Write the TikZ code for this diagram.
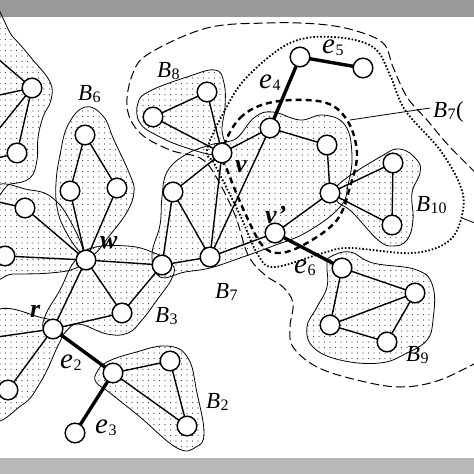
\documentclass[tikz,border=0pt]{standalone}
\usepackage{fontspec}
\setmainfont{Liberation Serif}
\usetikzlibrary{patterns.meta}
\newcommand\BB[1]{\textit{B}\kern0.3pt\raisebox{-2pt}{\fontsize{16}{16}\selectfont #1}}
\newcommand\EE[1]{{\fontsize{29}{29}\selectfont\textit{e}}\kern0.5pt\raisebox{-2pt}{\fontsize{16}{16}\selectfont #1}}
\begin{document}
\begin{tikzpicture}[x=1pt,y=-1pt,
 vtx/.style={circle,draw,fill=white,line width=1.4pt,minimum size=19pt,inner sep=0pt},
 edge/.style={line width=1.4pt},
 bridge/.style={line width=3.4pt},
 blob/.style={draw,line width=0.8pt,pattern={Dots[distance=5.5pt,radius=0.55pt]},pattern color=black!75},
 thickdash/.style={line width=2.4pt,dash pattern=on 6pt off 4pt},
 dotline/.style={line width=1.8pt,dash pattern=on 1.6pt off 1.9pt},
 longdash/.style={line width=1pt,dash pattern=on 9pt off 4pt},
 blab/.style={font=\fontsize{23}{23}\selectfont,inner sep=0pt,anchor=base west},
 elab/.style={inner sep=0pt,anchor=base west},
 vlab/.style={font=\fontsize{26}{26}\selectfont\bfseries\itshape,inner sep=0pt,anchor=base west}
]
\useasboundingbox (0,0) rectangle (474,474);
\clip (0,0) rectangle (474,474);
% bands
\fill[black!40] (0,0) rectangle (474,17);
\fill[black!28] (0,458) rectangle (474,474);

% blobs
\draw[blob] plot[smooth cycle,tension=0.7] coordinates {(-10,15) (13,37) (33,60) (50,82) (51,100) (43,117) (38,138) (37,160) (30,178) (10,184) (-10,184)};
\draw[blob] plot[smooth cycle,tension=0.7] coordinates {(85,107) (103,116) (114,140) (130,175) (134,192) (127,212) (110,235) (93,255) (80,252) (64,228) (57,207) (56,183) (60,155) (68,125)};
\draw[blob] plot[smooth cycle,tension=0.7] coordinates {(-10,192) (30,190) (55,200) (74,228) (84,256) (76,268) (50,273) (13,274) (-10,274)};
\draw[blob] plot[smooth cycle,tension=0.7] coordinates {(92,248) (127,246) (152,252) (172,264) (172,278) (157,300) (142,320) (128,333) (107,334) (77,324) (60,336) (44,330) (46,314) (60,290) (74,262)};
\draw[blob] plot[smooth cycle,tension=0.7] coordinates {(-10,317) (43,318) (62,330) (55,352) (40,383) (22,405) (-10,415)};
\draw[blob] plot[smooth cycle,tension=0.7] coordinates {(97,372) (107,362) (133,353) (167,346) (188,358) (197,393) (204,433) (196,447) (177,448) (140,417) (110,393) (96,382)};
\draw[blob] plot[smooth cycle,tension=0.7] coordinates {(210,145) (185,155) (167,172) (162,197) (160,225) (152,255) (160,277) (185,272) (210,268) (240,258) (273,246) (307,232) (340,207) (348,185) (352,155) (345,125) (323,115) (300,120) (273,112) (255,117) (238,137) (226,142)};
\draw[blob] plot[smooth cycle,tension=0.7] coordinates {(138,103) (150,91) (187,77) (215,70) (224,83) (225,107) (222,130) (226,150) (215,155) (187,148) (160,137) (140,123)};
\draw[blob] plot[smooth cycle,tension=0.7] coordinates {(338,185) (380,157) (400,149) (417,160) (420,173) (412,193) (413,220) (407,240) (393,246) (378,240) (352,212) (336,200)};
\draw[blob] plot[smooth cycle,tension=0.7] coordinates {(330,257) (350,252) (373,263) (417,270) (433,287) (433,320) (427,340) (407,353) (380,363) (340,360) (313,347) (307,327) (317,307) (327,287) (327,265)};

% region curves
\draw[thickdash] plot[smooth cycle,tension=0.6] coordinates {(222,152) (240,118) (273,102) (323,102) (347,120) (357,153) (350,187) (337,220) (307,243) (280,253) (262,245) (245,213) (228,172)};
\draw[dotline] plot[smooth cycle,tension=0.6] coordinates {(207,150) (225,110) (247,77) (290,43) (333,37) (373,47) (390,75) (405,110) (440,150) (460,185) (463,210) (450,240) (413,253) (350,248) (323,253) (275,267) (258,255) (240,215) (215,165)};
\draw[longdash] plot[smooth,tension=0.6] coordinates {(485,182) (450,147) (427,120) (407,97) (393,67) (383,43) (353,30) (317,24) (267,23) (207,28) (150,53) (133,73) (127,107) (140,133) (170,150) (200,158) (215,175) (235,215) (248,255) (265,275) (283,287) (293,303) (290,327) (293,347) (317,367) (357,380) (400,387) (440,380) (485,358)};

% vertices
\node[vtx] (a1) at (32,88) {};
\node[vtx] (a2) at (17,153) {};
\node[vtx] (b1) at (85,135) {};
\node[vtx] (b2) at (70,191) {};
\node[vtx] (b3) at (117,188) {};
\node[vtx] (w) at (86,260) {};
\node[vtx] (c1) at (25,208) {};
\node[vtx] (c2) at (5,256) {};
\node[vtx] (d1) at (162,265) {};
\node[vtx] (d2) at (122,313) {};
\node[vtx] (r) at (53,329) {};
\node[vtx] (f1) at (8,390) {};
\node[vtx] (g1) at (113,373) {};
\node[vtx] (g2) at (170,361) {};
\node[vtx] (g3) at (187,426) {};
\node[vtx] (g4) at (75,433) {};
\node[vtx] (v) at (222,153) {};
\node[vtx] (h1) at (173,192) {};
\node[vtx] (h2) at (210,257) {};
\node[vtx] (h3) at (270,128) {};
\node[vtx] (h4) at (327,145) {};
\node[vtx] (h5) at (330,193) {};
\node[vtx] (vp) at (275,233) {};
\node[vtx] (i1) at (153,117) {};
\node[vtx] (i2) at (207,92) {};
\node[vtx] (j1) at (300,57) {};
\node[vtx] (j2) at (363,68) {};
\node[vtx] (k1) at (393,163) {};
\node[vtx] (k2) at (392,225) {};
\node[vtx] (l1) at (342,268) {};
\node[vtx] (l2) at (415,293) {};
\node[vtx] (l3) at (330,325) {};
\node[vtx] (l4) at (387,342) {};
\coordinate (oa1) at (-10,52);
\coordinate (oa2) at (-10,97);
\coordinate (oa3) at (-10,140);
\coordinate (oa4) at (-10,160);
\coordinate (oc1) at (-10,200);
\coordinate (or1) at (-10,338);
\coordinate (of1) at (-10,392);
\coordinate (lb1) at (350,120);
\coordinate (lb2) at (430,108);
\coordinate (rt1) at (462,218);
\coordinate (rt2) at (480,225);

% edges
\draw[edge] (a1) -- (oa1) (a1) -- (oa2) (a1) -- (oa3) (a1) -- (a2) (a2) -- (oa4);
\draw[edge] (b1) -- (b2) (b1) -- (b3) (b2) -- (w) (b3) -- (w);
\draw[edge] (c1) -- (w) (c2) -- (w) (c1) -- (oc1);
\draw[edge] (w) -- (d1) (d1) -- (d2) (w) -- (d2) (w) -- (r) (r) -- (d2);
\draw[edge] (r) -- (f1) (r) -- (or1) (f1) -- (of1);
\draw[bridge] (r) -- (g1) (g1) -- (g4);
\draw[edge] (g1) -- (g2) (g1) -- (g3) (g2) -- (g3);
\draw[edge] (v) -- (h1) (h1) -- (d1) (h1) -- (h2) (v) -- (h2) (d1) -- (h2) (h2) -- (vp) (h2) -- (h3) (v) -- (h3) (h3) -- (h4) (h4) -- (h5) (h5) -- (vp);
\draw[edge] (v) -- (i1) (v) -- (i2) (i1) -- (i2);
\draw[bridge] (h3) -- (j1) (j1) -- (j2) (vp) -- (l1);
\draw[edge] (h5) -- (k1) (h5) -- (k2) (k1) -- (k2);
\draw[edge] (l1) -- (l2) (l1) -- (l3) (l3) -- (l2) (l3) -- (l4) (l4) -- (l2);
\draw[line width=0.8pt] (lb1) -- (lb2) (rt1) -- (rt2);
% redraw vertices on top
\foreach \n in {a1,a2,b1,b2,b3,w,c1,c2,d1,d2,r,f1,g1,g2,g3,g4,v,h1,h2,h3,h4,h5,vp,i1,i2,j1,j2,k1,k2,l1,l2,l3,l4}
  \draw[line width=1.4pt,fill=white] (\n.center) circle (9.8pt);

% labels
\node[blab] (lB6) at (78,100) {\BB{6}};
\node[blab] (lB8) at (157,77) {\BB{8}};
\node[blab] (lB3) at (155,322) {\BB{3}};
\node[blab] (lB7) at (215,298) {\BB{7}};
\node[blab] (lB2) at (206,408) {\BB{2}};
\node[blab] (lB10) at (416,211) {\BB{10}};
\node[blab] (lB9) at (406,361) {\BB{9}};
\node[blab] (lB7v) at (433,117) {\BB{7}\kern0.5pt(};
\node[elab] (le2) at (60,368) {\EE{2}};
\node[elab] (le3) at (95,433) {\EE{3}};
\node[elab] (le4) at (259,88) {\EE{4}};
\node[elab] (le5) at (322,53) {\EE{5}};
\node[elab] (le6) at (294,273) {\EE{6}};
\node[vlab] (lv) at (235,172) {v};
\node[vlab] (lvp) at (265,223) {v\kern1pt\textquoteright};
\node[vlab] (lw) at (100,248) {w};
\node[vlab] (lr) at (30,317) {r};
\end{tikzpicture}
\end{document}
